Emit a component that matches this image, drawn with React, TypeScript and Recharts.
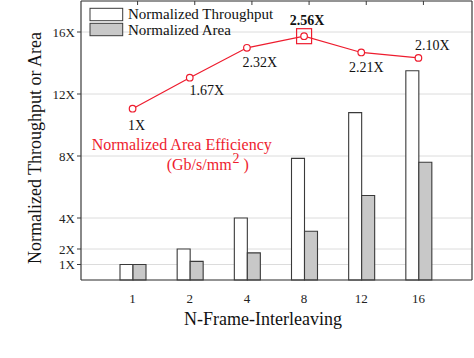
import React from 'react';
import { ComposedChart, Bar, Line, XAxis, YAxis, CartesianGrid } from 'recharts';

const categories = ['1', '2', '4', '8', '12', '16'];
const throughput = [1, 2, 4, 7.85, 10.8, 13.5];
const area = [1, 1.2, 1.75, 3.15, 5.45, 7.6];
const efficiencyPlot = [11.05, 13.05, 14.98, 15.73, 14.68, 14.33];
const efficiencyLabels = ['1X', '1.67X', '2.32X', '2.56X', '2.21X', '2.10X'];
const yTicks = [1, 2, 4, 8, 12, 16];

const data = categories.map((c, i) => ({
  cat: c,
  thr: throughput[i],
  area: area[i],
  eff: efficiencyPlot[i],
}));

const bestIdx = efficiencyPlot.indexOf(Math.max(...efficiencyPlot));

const FONT = '"Liberation Serif", "Times New Roman", serif';
const RED = '#ee1c2e';
const AXIS = '#3a3a3a';
const LABEL_OFFSETS = [
  { dx: 4, dy: 16 },
  { dx: 17, dy: 12 },
  { dx: 13, dy: 14 },
  { dx: 3, dy: -16 },
  { dx: 5, dy: 15 },
  { dx: 14, dy: -13 },
];

const Dot = (props: any) => {
  const { cx, cy, index } = props;
  if (cx == null || cy == null) return null;
  const off = LABEL_OFFSETS[index] || { dx: 0, dy: 14 };
  const best = index === bestIdx;
  return (
    <g key={`d${index}`}>
      <circle cx={cx} cy={cy} r={3.3} fill="#fff" stroke={RED} strokeWidth={1.2} />
      {best && (
        <rect x={cx - 7.5} y={cy - 7.5} width={15} height={15} fill="none" stroke={RED} strokeWidth={1.2} />
      )}
      <text
        x={cx + off.dx}
        y={cy + off.dy + 5}
        textAnchor="middle"
        fontFamily={FONT}
        fontSize={14}
        fontWeight={best ? 'bold' : 'normal'}
        fill="#111"
      >
        {efficiencyLabels[index]}
      </text>
    </g>
  );
};

const Empty = () => <g />;

export default function App() {
  return (
    <div style={{ position: 'absolute', left: 0, top: 0, width: 474, height: 358, background: '#fff' }}>
      <ComposedChart
        width={474}
        height={358}
        data={data}
        margin={{ top: 1, right: 2, bottom: 0, left: 0 }}
        barGap={0}
      >
        <CartesianGrid vertical={false} stroke="#dcdcdc" strokeWidth={1} />
        <XAxis
          dataKey="cat"
          type="category"
          height={78}
          padding={{ left: 23, right: 25 }}
          tickLine={false}
          axisLine={{ stroke: AXIS, strokeWidth: 1.2 }}
          tickMargin={8}
          tick={{ fontFamily: FONT, fontSize: 13, fill: '#222' }}
        />
        <XAxis
          xAxisId="top"
          dataKey="cat"
          type="category"
          orientation="top"
          mirror
          height={1}
          padding={{ left: 28, right: 20 }}
          tickSize={4}
          tickLine={{ stroke: AXIS }}
          axisLine={{ stroke: AXIS, strokeWidth: 1.2 }}
          tick={Empty}
        />
        <YAxis
          width={81}
          domain={[0, 18]}
          ticks={yTicks}
          interval={0}
          tickSize={4}
          tickMargin={2}
          tickLine={{ stroke: AXIS }}
          axisLine={{ stroke: AXIS, strokeWidth: 1.2 }}
          tickFormatter={(v: number) => `${v}X`}
          tick={{ fontFamily: FONT, fontSize: 13, fill: '#222' }}
        />
        <YAxis
          yAxisId="right"
          orientation="right"
          mirror
          width={1}
          domain={[0, 18]}
          ticks={yTicks}
          interval={0}
          tickSize={4}
          tickLine={{ stroke: AXIS }}
          axisLine={{ stroke: AXIS, strokeWidth: 1.2 }}
          tick={Empty}
        />
        <Bar dataKey="thr" barSize={13} fill="#ffffff" stroke={AXIS} strokeWidth={1.1} isAnimationActive={false} />
        <Bar dataKey="area" barSize={13} fill="#c8c8c8" stroke={AXIS} strokeWidth={1.1} isAnimationActive={false} />
        <Line
          dataKey="eff"
          type="linear"
          stroke={RED}
          strokeWidth={1.2}
          dot={Dot}
          activeDot={false}
          isAnimationActive={false}
        />
      </ComposedChart>
      <svg
        width={474}
        height={358}
        style={{ position: 'absolute', left: 0, top: 0, pointerEvents: 'none' }}
      >
        <text
          transform="translate(41,148) rotate(-90)"
          textAnchor="middle"
          fontFamily={FONT}
          fontSize={18}
          fill="#111"
        >
          Normalized Throughput or Area
        </text>
        <text x={263} y={325} textAnchor="middle" fontFamily={FONT} fontSize={18} fill="#111">
          N-Frame-Interleaving
        </text>
        <rect x={90} y={8.3} width={32.7} height={12.4} fill="#fff" stroke={AXIS} strokeWidth={1} />
        <rect x={90} y={23.3} width={32.7} height={12.4} fill="#c8c8c8" stroke={AXIS} strokeWidth={1} />
        <text x={128} y={19.3} fontFamily={FONT} fontSize={15} fill="#111">
          Normalized Throughput
        </text>
        <text x={128} y={34.5} fontFamily={FONT} fontSize={15} fill="#111">
          Normalized Area
        </text>
        <text x={91.7} y={150.3} fontFamily={FONT} fontSize={16} fill={RED}>
          Normalized Area Efficiency
        </text>
        <text x={166.7} y={170.3} fontFamily={FONT} fontSize={16} fill={RED}>
          (Gb/s/mm
          <tspan dx={1} dy={-7} fontSize={14}>2</tspan>
          <tspan dy={7}> )</tspan>
        </text>
      </svg>
    </div>
  );
}
